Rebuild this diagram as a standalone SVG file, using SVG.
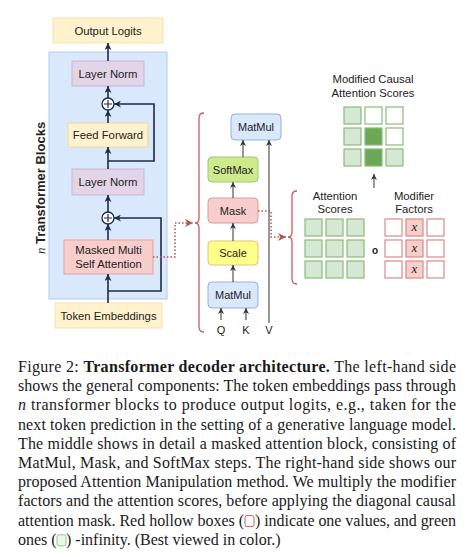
<svg xmlns="http://www.w3.org/2000/svg" width="474" height="557" viewBox="0 0 474 557">
<style>
.lbl{font-family:"Liberation Sans",Arial,sans-serif;font-size:11.3px;fill:#222;text-anchor:middle}
.mid{font-family:"Liberation Sans",Arial,sans-serif;font-size:11px;fill:#222;text-anchor:middle}
.cap{font-family:"Liberation Serif","Times New Roman",serif;font-size:16px;fill:#1a1a1a}
.nav{stroke:#1d2a48;stroke-width:1.6;fill:none}
.gr{stroke:#333;stroke-width:1;fill:none}
.dot{stroke:#b5504f;stroke-width:1.5;fill:none;stroke-dasharray:1.5 2}
.brace{stroke:#c0605e;stroke-width:1.3;fill:none}
.gc{stroke:#8dba7a;stroke-width:1.2}
.rc{stroke:#d88a88;stroke-width:1.2}
.mx{font-family:"Liberation Serif","Times New Roman",serif;font-style:italic;font-size:13px;fill:#222;text-anchor:middle}
</style>
<defs>
<marker id="an" viewBox="0 0 10 10" refX="10" refY="5" markerWidth="7" markerHeight="7" markerUnits="userSpaceOnUse" orient="auto"><path d="M0,0 L10,5 L0,10 L3,5 Z" fill="#1d2a48"/></marker>
<marker id="ag" viewBox="0 0 10 10" refX="10" refY="5" markerWidth="6" markerHeight="6" markerUnits="userSpaceOnUse" orient="auto"><path d="M0,0 L10,5 L0,10 L3,5 Z" fill="#333"/></marker>
<marker id="ar" viewBox="0 0 10 10" refX="10" refY="5" markerWidth="8" markerHeight="8" markerUnits="userSpaceOnUse" orient="auto"><path d="M0,0 L10,5 L0,10 L3,5 Z" fill="#b5504f"/></marker>
</defs>
<rect width="474" height="557" fill="#fff"/>

<g id="transformer-blocks">
<rect x="49" y="52" width="118" height="247" fill="#dae8fc" stroke="#b3c9e8" stroke-width="1"/>
<text transform="translate(45,188) rotate(-90)" font-family="Liberation Sans,Arial,sans-serif" font-size="13" font-weight="bold" fill="#222" text-anchor="middle"><tspan font-family="Liberation Serif,serif" font-style="italic" font-weight="normal">n</tspan> Transformer Blocks</text>
</g>
<g id="output-logits"><rect x="53" y="18" width="110" height="25" fill="#fff2cc" stroke="#f3e3b0"/><text class="lbl" x="108" y="35">Output Logits</text></g>
<g id="layer-norm-top"><rect x="72" y="61" width="72" height="25" fill="#e1d5e7" stroke="#c8b3d6"/><text class="lbl" x="108" y="78">Layer Norm</text></g>
<g id="plus-top"><circle cx="108" cy="104" r="6" fill="#fff" stroke="#1d2a48" stroke-width="1.3"/><path d="M104,104 H112 M108,100 V108" stroke="#1d2a48" stroke-width="1.2"/></g>
<g id="feed-forward"><rect x="68" y="123" width="80" height="24" fill="#fff2cc" stroke="#e8d9a3"/><text class="lbl" x="108" y="139">Feed Forward</text></g>
<g id="layer-norm-bottom"><rect x="72" y="169" width="72" height="26" fill="#e1d5e7" stroke="#c8b3d6"/><text class="lbl" x="108" y="186">Layer Norm</text></g>
<g id="plus-bottom"><circle cx="108" cy="218" r="6" fill="#fff" stroke="#1d2a48" stroke-width="1.3"/><path d="M104,218 H112 M108,214 V222" stroke="#1d2a48" stroke-width="1.2"/></g>
<g id="masked-msa"><rect x="64" y="240" width="89" height="34" fill="#f8cecc" stroke="#e3a19f"/><text class="lbl" x="108.5" y="254">Masked Multi</text><text class="lbl" x="108.5" y="268">Self Attention</text></g>
<g id="token-embeddings"><rect x="55" y="303" width="107" height="25" fill="#fff2cc" stroke="#f3e3b0"/><text class="lbl" x="108.5" y="320">Token Embeddings</text></g>

<g id="matmul-top"><rect x="231" y="114" width="50" height="26" rx="4" fill="#dae8fc" stroke="#93b1d8"/><text class="mid" x="256" y="131">MatMul</text></g>
<g id="softmax"><rect x="208" y="157" width="50" height="25" rx="4" fill="#cdeb8b" stroke="#9cc57c"/><text class="mid" x="233" y="173.5">SoftMax</text></g>
<g id="mask"><rect x="208" y="198" width="50" height="25" rx="4" fill="#f8cecc" stroke="#d99a98"/><text class="mid" x="233" y="214.5">Mask</text></g>
<g id="scale"><rect x="208" y="241" width="50" height="24" rx="4" fill="#ffff88" stroke="#d8c878"/><text class="mid" x="233" y="257">Scale</text></g>
<g id="matmul-bottom"><rect x="208" y="282" width="50" height="26" rx="4" fill="#dae8fc" stroke="#93b1d8"/><text class="mid" x="233" y="299">MatMul</text></g>
<g id="qkv"><text class="mid" x="221" y="334">Q</text><text class="mid" x="246" y="334">K</text><text class="mid" x="269" y="334">V</text></g>

<g id="modified-scores">
<text class="lbl" x="373" y="83">Modified Causal</text>
<text class="lbl" x="373" y="97">Attention Scores</text>
<rect class="gc" x="344" y="107" width="17" height="17" fill="#d5e8d4"/>
<rect class="gc" x="365" y="107" width="17" height="17" fill="#fff"/>
<rect class="gc" x="386" y="107" width="17" height="17" fill="#fff"/>
<rect class="gc" x="344" y="128" width="17" height="17" fill="#d5e8d4"/>
<rect class="gc" x="365" y="128" width="17" height="17" fill="#6aa955"/>
<rect class="gc" x="386" y="128" width="17" height="17" fill="#fff"/>
<rect class="gc" x="344" y="149" width="17" height="17" fill="#d5e8d4"/>
<rect class="gc" x="365" y="149" width="17" height="17" fill="#6aa955"/>
<rect class="gc" x="386" y="149" width="17" height="17" fill="#d5e8d4"/>
</g>
<g id="attention-scores">
<text class="lbl" x="335" y="200">Attention</text>
<text class="lbl" x="335" y="213">Scores</text>
<rect class="gc" x="305" y="219" width="17" height="17" fill="#d5e8d4"/>
<rect class="gc" x="326" y="219" width="17" height="17" fill="#d5e8d4"/>
<rect class="gc" x="347" y="219" width="17" height="17" fill="#d5e8d4"/>
<rect class="gc" x="305" y="240" width="17" height="17" fill="#d5e8d4"/>
<rect class="gc" x="326" y="240" width="17" height="17" fill="#d5e8d4"/>
<rect class="gc" x="347" y="240" width="17" height="17" fill="#d5e8d4"/>
<rect class="gc" x="305" y="261" width="17" height="17" fill="#d5e8d4"/>
<rect class="gc" x="326" y="261" width="17" height="17" fill="#d5e8d4"/>
<rect class="gc" x="347" y="261" width="17" height="17" fill="#d5e8d4"/>
</g>
<g id="hadamard"><text x="375" y="254" font-family="Liberation Sans,Arial,sans-serif" font-size="10" font-weight="bold" fill="#222" text-anchor="middle">o</text></g>
<g id="modifier-factors">
<text class="lbl" x="414" y="200">Modifier</text>
<text class="lbl" x="414" y="213">Factors</text>
<rect class="rc" x="385" y="219" width="17" height="17" fill="#fff"/>
<rect class="rc" x="406" y="219" width="17" height="17" fill="#f8cecc"/>
<rect class="rc" x="427" y="219" width="17" height="17" fill="#fff"/>
<rect class="rc" x="385" y="240" width="17" height="17" fill="#fff"/>
<rect class="rc" x="406" y="240" width="17" height="17" fill="#f8cecc"/>
<rect class="rc" x="427" y="240" width="17" height="17" fill="#fff"/>
<rect class="rc" x="385" y="261" width="17" height="17" fill="#fff"/>
<rect class="rc" x="406" y="261" width="17" height="17" fill="#f8cecc"/>
<rect class="rc" x="427" y="261" width="17" height="17" fill="#fff"/>
<text class="mx" x="414.5" y="231">x</text>
<text class="mx" x="414.5" y="252">x</text>
<text class="mx" x="414.5" y="273">x</text>
</g>

<g id="connectors">
<path class="nav" d="M108,303 V274" marker-end="url(#an)"/>
<path class="nav" d="M108,291 H161 V218 H114" marker-end="url(#an)"/>
<path class="nav" d="M108,240 V224" marker-end="url(#an)"/>
<path class="nav" d="M108,212 V195" marker-end="url(#an)"/>
<path class="nav" d="M108,169 V147" marker-end="url(#an)"/>
<path class="nav" d="M108,161 H154 V104 H114" marker-end="url(#an)"/>
<path class="nav" d="M108,123 V110" marker-end="url(#an)"/>
<path class="nav" d="M108,98 V86" marker-end="url(#an)"/>
<path class="nav" d="M108,61 V43" marker-end="url(#an)"/>
<path class="gr" d="M233,282 V265" marker-end="url(#ag)"/>
<path class="gr" d="M233,241 V223" marker-end="url(#ag)"/>
<path class="gr" d="M233,198 V182" marker-end="url(#ag)"/>
<path class="gr" d="M243,157 V140" marker-end="url(#ag)"/>
<path class="gr" d="M269,323 V140" marker-end="url(#ag)"/>
<path class="gr" d="M221,320 V308" marker-end="url(#ag)"/>
<path class="gr" d="M246,320 V308" marker-end="url(#ag)"/>
<path class="gr" d="M374,188 V174" marker-end="url(#ag)"/>
<path class="dot" d="M153,257 H175 V223 H193" marker-end="url(#ar)"/>
<path class="dot" d="M258,211 H271 V237 H286" marker-end="url(#ar)"/>
<path class="brace" d="M204,113 Q199,113 199,118 L199,218 Q199,223 195,223 Q199,223 199,228 L199,327 Q199,332 204,332"/>
<path class="brace" d="M297,191 Q292,191 292,196 L292,232 Q292,237 288,237 Q292,237 292,242 L292,279 Q292,284 297,284"/>
</g>

<g id="caption">
<text class="cap" x="18" y="372" textLength="438" lengthAdjust="spacing">Figure 2: <tspan font-weight="bold">Transformer decoder architecture.</tspan> The left-hand side</text>
<text class="cap" x="18" y="391.2" textLength="438" lengthAdjust="spacing">shows the general components: The token embeddings pass through</text>
<text class="cap" x="18" y="410.4" textLength="438" lengthAdjust="spacing"><tspan font-style="italic">n</tspan> transformer blocks to produce output logits, e.g., taken for the</text>
<text class="cap" x="18" y="429.6" textLength="438" lengthAdjust="spacing">next token prediction in the setting of a generative language model.</text>
<text class="cap" x="18" y="448.8" textLength="438" lengthAdjust="spacing">The middle shows in detail a masked attention block, consisting of</text>
<text class="cap" x="18" y="468" textLength="438" lengthAdjust="spacing">MatMul, Mask, and SoftMax steps. The right-hand side shows our</text>
<text class="cap" x="18" y="487.2" textLength="438" lengthAdjust="spacing">proposed Attention Manipulation method. We multiply the modifier</text>
<text class="cap" x="18" y="506.4" textLength="438" lengthAdjust="spacing">factors and the attention scores, before applying the diagonal causal</text>
<text class="cap" x="18" y="525.6" textLength="226" lengthAdjust="spacing">attention mask. Red hollow boxes (</text>
<rect x="245" y="515.6" width="9" height="11" rx="2" fill="#fff" stroke="#c8605e" stroke-width="1"/>
<text class="cap" x="255" y="525.6" textLength="201" lengthAdjust="spacing">) indicate one values, and green</text>
<text class="cap" x="18" y="544.8">ones (</text>
<rect x="57" y="534.8" width="9" height="11" rx="2" fill="#eef6ea" stroke="#9cc58a" stroke-width="1"/>
<text class="cap" x="66" y="544.8">) -infinity. (Best viewed in color.)</text>
</g>
</svg>
